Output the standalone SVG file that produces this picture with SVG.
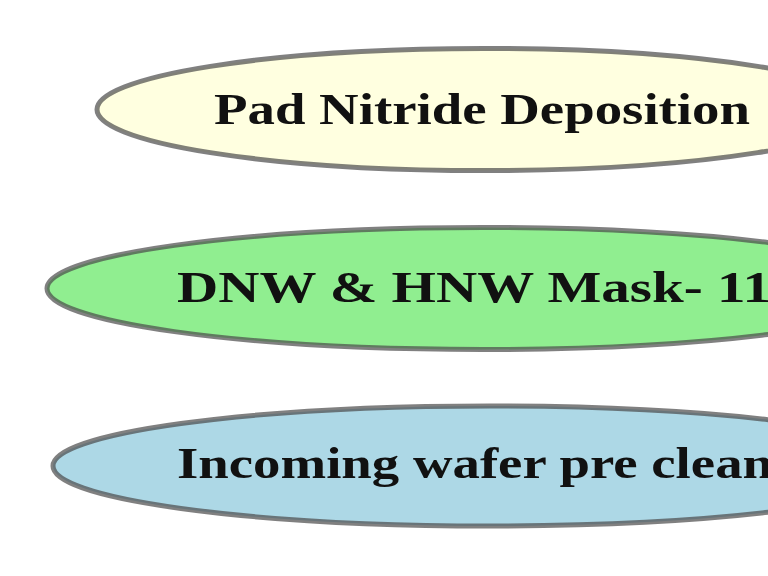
<svg xmlns="http://www.w3.org/2000/svg" width="768" height="576" viewBox="0 0 768 576">
<style>
.node ellipse{stroke:#4a4a4a;stroke-opacity:0.7;stroke-width:5}
.node text{font-family:"Liberation Serif","Times New Roman",serif;font-size:44px;font-weight:bold;fill:#111}
</style>
<rect width="768" height="576" fill="#ffffff"/>
<g id="connectors"></g>
<g id="node-pad-nitride" class="node">
<ellipse cx="484" cy="109.5" rx="387" ry="61" fill="#ffffe0"/>
<text x="214" y="124" textLength="536" lengthAdjust="spacingAndGlyphs">Pad Nitride Deposition</text>
</g>
<g id="node-dnw-hnw" class="node">
<ellipse cx="482" cy="288.5" rx="435" ry="61" fill="#90ee90"/>
<text x="177" y="302" textLength="594" lengthAdjust="spacingAndGlyphs">DNW &amp; HNW Mask- 11</text>
</g>
<g id="node-incoming" class="node">
<ellipse cx="490" cy="466" rx="437" ry="60" fill="#add8e6"/>
<text x="177" y="478" textLength="596" lengthAdjust="spacingAndGlyphs">Incoming wafer pre clean</text>
</g>
</svg>
